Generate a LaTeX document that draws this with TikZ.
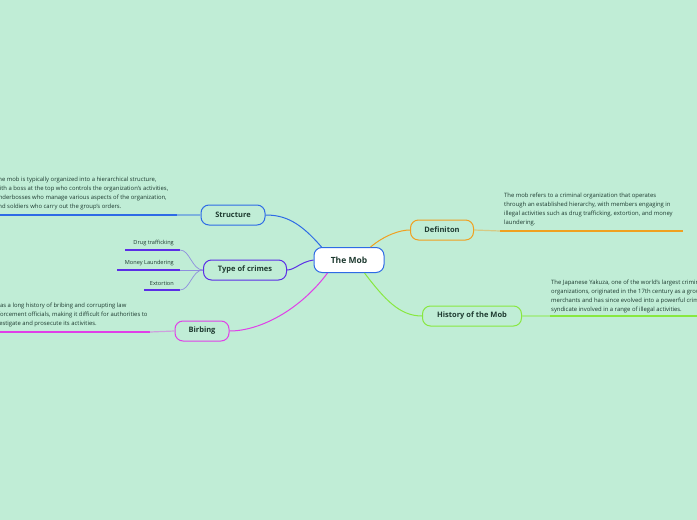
\documentclass[tikz,border=0pt]{standalone}
\usepackage{fontspec}
\setmainfont{Open Sans}
\begin{document}
\begin{tikzpicture}[x=1pt,y=-1pt,
 topic/.style={draw=#1,line width=1pt,rounded corners=8pt,fill=bg,minimum height=20pt,inner xsep=9pt,font=\fontsize{7.5}{9}\selectfont\bfseries,text=txt},
 desc/.style={font=\fontsize{5.9}{9}\selectfont,text=txt,align=left,inner sep=0pt,anchor=north west},
 sub/.style={font=\fontsize{5.6}{7}\selectfont,text=txt,inner sep=0pt,anchor=south east}]
\definecolor{bg}{HTML}{C0EDD6}
\definecolor{txt}{HTML}{1E3A30}
\definecolor{cblue}{HTML}{2E6BE6}
\definecolor{cpur}{HTML}{5B2EE6}
\definecolor{cmag}{HTML}{E040E8}
\definecolor{corg}{HTML}{F0A020}
\definecolor{cgrn}{HTML}{88E840}
\fill[bg] (0,0) rectangle (697,520);
\useasboundingbox (0,0) rectangle (697,520);
\clip (0,0) rectangle (697,520);
% central
\node[draw=cblue,line width=1pt,rounded corners=8pt,fill=white,minimum width=70pt,minimum height=25pt,font=\fontsize{8.5}{10}\selectfont\bfseries,text=txt] (mob) at (349,260) {The Mob};
\node[topic=cblue,minimum width=64pt] (st) at (233,215) {Structure};
\node[topic=cpur,minimum width=83pt] (tc) at (245,270) {Type of crimes};
\node[topic=cmag,minimum width=54pt] (bi) at (202,331) {Birbing};
\node[topic=corg,minimum width=63pt] (de) at (442,230) {Definiton};
\node[topic=cgrn,minimum width=99pt] (hi) at (472,316) {History of the Mob};
% curves
\draw[cblue,line width=1pt] (mob.north west) ++(8,0) .. controls (300,222) and (285,215) .. (st.east);
\draw[cpur,line width=1pt] (mob.west) .. controls (300,262) and (295,270) .. (tc.east);
\draw[cmag,line width=1pt] (mob.south west) ++(14,0) .. controls (300,310) and (260,331) .. (bi.east);
\draw[corg,line width=1pt] (mob.north east) ++(-14,0) .. controls (385,235) and (400,230) .. (de.west);
\draw[cgrn,line width=1pt] (mob.south east) ++(-20,0) .. controls (385,300) and (400,316) .. (hi.west);
% lines
\coordinate (s0) at (0,215); \coordinate (s1) at (177,215);
\draw[cblue,line width=1.2pt] (s0) -- (s1);
\draw[cblue!45!bg,line width=1.2pt] (s1) -- (st.west);
\coordinate (b0) at (0,332); \coordinate (b1) at (150,332);
\draw[cmag,line width=1.2pt] (b0) -- (b1);
\draw[cmag!45!bg,line width=1.2pt] (b1) -- (bi.west);
\coordinate (d1) at (500,231); \coordinate (d2) at (683,231);
\draw[corg!45!bg,line width=1.2pt] (de.east) -- (d1);
\draw[corg,line width=1.2pt] (d1) -- (d2);
\coordinate (h1) at (550,316); \coordinate (h2) at (697,316);
\draw[cgrn!45!bg,line width=1.2pt] (hi.east) -- (h1);
\draw[cgrn,line width=1.2pt] (h1) -- (h2);
% texts
\node[desc] (stt) at (-5,177) {The mob is typically organized into a hierarchical structure,\\with a boss at the top who controls the organization's activities,\\underbosses who manage various aspects of the organization,\\and soldiers who carry out the group's orders.};
\node[desc] (bit) at (-9,303) {It has a long history of bribing and corrupting law\\enforcement officials, making it difficult for authorities to\\investigate and prosecute its activities.};
\node[desc] (det) at (504,193) {The mob refers to a criminal organization that operates\\through an established hierarchy, with members engaging in\\illegal activities such as drug trafficking, extortion, and money\\laundering.};
\node[desc] (hit) at (551,280) {The Japanese Yakuza, one of the world's largest criminal\\organizations, originated in the 17th century as a group of\\merchants and has since evolved into a powerful criminal\\syndicate involved in a range of illegal activities.};
% subtopics
\coordinate (t1a) at (125,250); \coordinate (t1b) at (180,250);
\coordinate (t2a) at (117,270); \coordinate (t2b) at (180,270);
\coordinate (t3a) at (144,290); \coordinate (t3b) at (180,290);
\draw[cpur,line width=1.2pt] (t1a) -- (t1b); \draw[cpur,line width=1.2pt] (t2a) -- (t2b); \draw[cpur,line width=1.2pt] (t3a) -- (t3b);
\draw[cpur!50!bg,line width=0.7pt] (tc.west) .. controls (192,270) and (190,250) .. (t1b);
\draw[cpur!50!bg,line width=0.7pt] (tc.west) -- (t2b);
\draw[cpur!50!bg,line width=0.7pt] (tc.west) .. controls (192,270) and (190,290) .. (t3b);
\node[sub] (s1t) at (174,246) {Drug trafficking};
\node[sub] (s2t) at (174,266) {Money Laundering};
\node[sub] (s3t) at (174,286) {Extortion};
\end{tikzpicture}
\end{document}
